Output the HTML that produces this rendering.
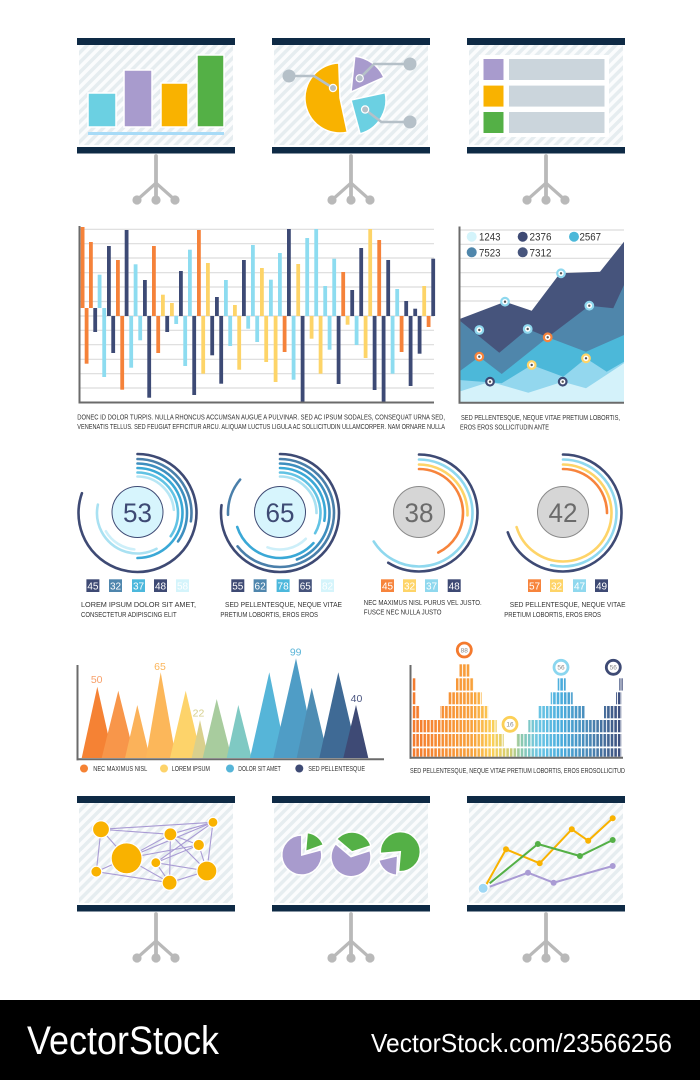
<!DOCTYPE html>
<html><head><meta charset="utf-8"><style>
html,body{margin:0;padding:0;background:#fff;}
svg{display:block;}
text{font-family:"Liberation Sans",sans-serif;}
.a{fill:none;stroke-width:2.6;stroke-linecap:round;}
.cap{font-size:7.6px;fill:#333;}
.sq{font-size:10px;fill:#fff;text-anchor:middle;}
</style></head><body>
<svg width="700" height="1080" viewBox="0 0 700 1080" xmlns="http://www.w3.org/2000/svg">
<defs>
<pattern id="st" width="7" height="7" patternUnits="userSpaceOnUse" patternTransform="rotate(45)">
<rect width="7" height="7" fill="#e6edf0"/><rect width="3.5" height="7" fill="#fbfcfd"/>
</pattern>
<pattern id="vg" x="412.7" y="0" width="3.6" height="20" patternUnits="userSpaceOnUse">
<rect x="2.6" y="0" width="1" height="20" fill="#fff"/>
</pattern>
<linearGradient id="cg" gradientUnits="userSpaceOnUse" x1="412" y1="0" x2="622" y2="0">
<stop offset="0" stop-color="#f47a2e"/>
<stop offset="0.29" stop-color="#f8a23c"/>
<stop offset="0.38" stop-color="#fcd058"/>
<stop offset="0.47" stop-color="#cdcd74"/>
<stop offset="0.52" stop-color="#8dc9ae"/>
<stop offset="0.6" stop-color="#6cc6e4"/>
<stop offset="0.71" stop-color="#4aaddd"/>
<stop offset="0.85" stop-color="#4a86b4"/>
<stop offset="1" stop-color="#3e4b79"/>
</linearGradient>
<g id="board">
<rect x="0" y="0" width="158" height="7" fill="#0e2a45"/>
<rect x="2" y="7" width="154" height="100" fill="url(#st)"/>
<rect x="0" y="109" width="158" height="6.5" fill="#0e2a45"/>
<g stroke="#b9b9b9" fill="none" stroke-linecap="round">
<line x1="79" y1="118" x2="79" y2="162" stroke-width="3.8"/>
<polyline points="60,162 79,145 98,162" stroke-width="3.2"/>
</g>
<g fill="#b9b9b9"><circle cx="60" cy="162" r="4.6"/><circle cx="79" cy="162" r="4.6"/><circle cx="98" cy="162" r="4.6"/></g>
</g>
</defs>
<rect width="700" height="1080" fill="#fff"/>

<!-- boards -->
<use href="#board" x="77" y="38"/>
<use href="#board" x="272" y="38"/>
<use href="#board" x="467" y="38"/>
<use href="#board" x="77" y="796"/>
<use href="#board" x="272" y="796"/>
<use href="#board" x="467" y="796"/>

<!-- board 1 content -->
<g stroke="#fff" stroke-width="1.5">
<rect x="88" y="93" width="28" height="34" fill="#6bd0e2"/>
<rect x="124" y="70" width="28" height="57" fill="#a89bcd"/>
<rect x="161" y="83" width="27" height="44" fill="#f9b200"/>
<rect x="197" y="55" width="27" height="72" fill="#54b046"/>
</g>
<rect x="88" y="132" width="136" height="3" fill="#a8dbf7"/>

<!-- board 2 content -->
<g stroke="#fff" stroke-width="1.5">
<path d="M340,98 L347.3,132.2 A35,35 0 1,1 338.8,63 Z" fill="#f9b200"/>
<path d="M351,92 L354.8,56.2 A36,36 0 0,1 383.9,77.4 Z" fill="#a89bcd"/>
<path d="M351,100 L385.2,92.7 A35,35 0 0,1 360.1,133.8 Z" fill="#6bd0e2"/>
</g>
<g stroke="#b5c0c8" stroke-width="2.6" fill="none">
<polyline points="289,76 314,76 333,88"/>
<polyline points="410,64 374,64 359.7,78.3"/>
<polyline points="410,122 381.4,122 365.1,109.5"/>
</g>
<g fill="#b5c0c8"><circle cx="289" cy="76" r="6.5"/><circle cx="410" cy="64" r="6.5"/><circle cx="410" cy="122" r="6.5"/></g>
<g fill="#b5c0c8" stroke="#fff" stroke-width="1.2"><circle cx="333" cy="88" r="3.6"/><circle cx="359.7" cy="78.3" r="3.6"/><circle cx="365.1" cy="109.5" r="3.6"/></g>

<!-- board 3 content -->
<rect x="479" y="55" width="130" height="82" fill="#fff"/>
<rect x="483.5" y="59" width="20" height="21" fill="#a89bcd"/>
<rect x="483.5" y="85.6" width="20" height="21" fill="#f9b200"/>
<rect x="483.5" y="112" width="20" height="21" fill="#54b046"/>
<rect x="509" y="59" width="95.5" height="21" fill="#cbd5dc"/>
<rect x="509" y="85.6" width="95.5" height="21" fill="#cbd5dc"/>
<rect x="509" y="112" width="95.5" height="21" fill="#cbd5dc"/>

<!-- middle bar chart -->
<g stroke="#dcdcdc" stroke-width="1.2">
<line x1="80" y1="229.3" x2="434" y2="229.3"/><line x1="80" y1="243.7" x2="434" y2="243.7"/>
<line x1="80" y1="258" x2="434" y2="258"/><line x1="80" y1="272.7" x2="434" y2="272.7"/>
<line x1="80" y1="287" x2="434" y2="287"/><line x1="80" y1="301.5" x2="434" y2="301.5"/>
<line x1="80" y1="316" x2="434" y2="316"/><line x1="80" y1="330.3" x2="434" y2="330.3"/>
<line x1="80" y1="344.7" x2="434" y2="344.7"/><line x1="80" y1="359.3" x2="434" y2="359.3"/>
<line x1="80" y1="373.7" x2="434" y2="373.7"/><line x1="80" y1="388" x2="434" y2="388"/>
</g>
<g fill="#f5823a">
<rect x="80.7" y="227" width="3.8" height="81"/><rect x="84.7" y="308" width="3.8" height="55.7"/>
<rect x="89" y="242" width="3.8" height="66"/><rect x="116" y="260" width="3.8" height="56"/>
<rect x="120.3" y="316" width="3.8" height="73.7"/><rect x="152" y="246" width="3.8" height="70"/>
<rect x="156.3" y="316" width="3.8" height="37"/><rect x="197" y="230" width="3.8" height="86"/>
<rect x="282.7" y="316" width="3.8" height="36"/><rect x="341.3" y="272" width="3.8" height="44"/>
<rect x="377.3" y="240" width="3.8" height="76"/><rect x="399.7" y="316" width="3.8" height="36"/>
<rect x="426.7" y="316" width="3.8" height="11"/>
</g>
<g fill="#3d4a75">
<rect x="93.3" y="308" width="3.8" height="24"/><rect x="107" y="246" width="3.8" height="70"/>
<rect x="111.3" y="316" width="3.8" height="37"/><rect x="124.7" y="230" width="3.8" height="86"/>
<rect x="143" y="280" width="3.8" height="36"/><rect x="147.3" y="316" width="3.8" height="81.7"/>
<rect x="165.3" y="316" width="3.8" height="16"/><rect x="179" y="271" width="3.8" height="45"/>
<rect x="192.3" y="316" width="3.8" height="79"/><rect x="210.3" y="316" width="3.8" height="39.3"/>
<rect x="215" y="297" width="3.8" height="19"/><rect x="219.3" y="316" width="3.8" height="67.7"/>
<rect x="242" y="260" width="3.8" height="56"/><rect x="287" y="229" width="3.8" height="87"/>
<rect x="300.7" y="316" width="3.8" height="87"/><rect x="336.7" y="316" width="3.8" height="68"/>
<rect x="350.3" y="290" width="3.8" height="26"/><rect x="359.3" y="248" width="3.8" height="68"/>
<rect x="372.7" y="316" width="3.8" height="74"/><rect x="381.7" y="316" width="3.8" height="86"/>
<rect x="386.3" y="260" width="3.8" height="56"/><rect x="404.3" y="301" width="3.8" height="15"/>
<rect x="408.7" y="316" width="3.8" height="70"/><rect x="413.3" y="308.7" width="3.8" height="7.3"/>
<rect x="417.7" y="316" width="3.8" height="37.7"/><rect x="431.3" y="258.7" width="3.8" height="57.3"/>
</g>
<g fill="#8ddcf0">
<rect x="97.7" y="274.7" width="3.8" height="33.3"/><rect x="102.3" y="308" width="3.8" height="69"/>
<rect x="129.3" y="316" width="3.8" height="51.7"/><rect x="133.7" y="264.3" width="3.8" height="51.7"/>
<rect x="138.3" y="316" width="3.8" height="24.3"/><rect x="174.3" y="316" width="3.8" height="8"/>
<rect x="183.3" y="316" width="3.8" height="50"/><rect x="188" y="249.7" width="3.8" height="66.3"/>
<rect x="224" y="280" width="3.8" height="36"/><rect x="228.3" y="316" width="3.8" height="30"/>
<rect x="246.3" y="316" width="3.8" height="12.7"/><rect x="251" y="245" width="3.8" height="71"/>
<rect x="255.3" y="316" width="3.8" height="26"/><rect x="269" y="279.7" width="3.8" height="36.3"/>
<rect x="278" y="253" width="3.8" height="63"/><rect x="291.7" y="316" width="3.8" height="63.7"/>
<rect x="305.3" y="238" width="3.8" height="78"/><rect x="314.3" y="229" width="3.8" height="87"/>
<rect x="323.3" y="286" width="3.8" height="30"/><rect x="327.7" y="316" width="3.8" height="33.7"/>
<rect x="332.3" y="258.7" width="3.8" height="57.3"/><rect x="354.7" y="316" width="3.8" height="29"/>
<rect x="390.7" y="316" width="3.8" height="57.7"/><rect x="395.3" y="289" width="3.8" height="27"/>
</g>
<g fill="#fdd468">
<rect x="161" y="294.7" width="3.8" height="21.3"/><rect x="170" y="303" width="3.8" height="13"/>
<rect x="201.3" y="316" width="3.8" height="57.7"/><rect x="206" y="263" width="3.8" height="53"/>
<rect x="233" y="305" width="3.8" height="11"/><rect x="237.3" y="316" width="3.8" height="53.7"/>
<rect x="260" y="268" width="3.8" height="48"/><rect x="264.3" y="316" width="3.8" height="46"/>
<rect x="273.7" y="316" width="3.8" height="66"/><rect x="296.3" y="264" width="3.8" height="52"/>
<rect x="309.7" y="316" width="3.8" height="22.7"/><rect x="318.7" y="316" width="3.8" height="57.7"/>
<rect x="345.7" y="316" width="3.8" height="8.7"/><rect x="363.7" y="316" width="3.8" height="42"/>
<rect x="368.3" y="229" width="3.8" height="87"/><rect x="422.3" y="286" width="3.8" height="30"/>
</g>
<g stroke="#6b6b6b" stroke-width="2">
<line x1="79.5" y1="226" x2="79.5" y2="403.5"/><line x1="78.5" y1="402.5" x2="434" y2="402.5"/>
</g>
<text class="cap" x="77.3" y="419.5" textLength="367.7" lengthAdjust="spacingAndGlyphs">DONEC ID DOLOR TURPIS. NULLA RHONCUS ACCUMSAN AUGUE A PULVINAR. SED AC IPSUM SODALES, CONSEQUAT URNA SED,</text>
<text class="cap" x="77.3" y="429" textLength="367.7" lengthAdjust="spacingAndGlyphs">VENENATIS TELLUS. SED FEUGIAT EFFICITUR ARCU. ALIQUAM LUCTUS LIGULA AC SOLLICITUDIN ULLAMCORPER. NAM ORNARE NULLA</text>

<!-- area chart -->
<g stroke="#dcdcdc" stroke-width="1.2">
<line x1="460" y1="230" x2="624" y2="230"/><line x1="460" y1="244.3" x2="624" y2="244.3"/>
<line x1="460" y1="258.3" x2="624" y2="258.3"/><line x1="460" y1="272.7" x2="624" y2="272.7"/>
<line x1="460" y1="286.7" x2="624" y2="286.7"/><line x1="460" y1="301" x2="624" y2="301"/>
</g>
<polygon fill="#46547c" points="459,319.3 505,301.7 531.7,310.7 560,273.3 600,271.7 624,241.7 624,402 459,402"/>
<polygon fill="#4f86ab" points="459,320 499.3,352.7 527.7,329 547.7,337.3 589.3,305.7 613.3,308.3 624,285 624,402 459,402"/>
<polygon fill="#4cb8d9" points="459,371.7 479.3,356.7 501.7,374 547.7,337.3 586,351.7 624,335 624,402 459,402"/>
<polygon fill="#93d7ee" points="459,380 501.7,383.3 531.7,365 563.3,376.7 586,358.3 606.7,371.7 624,361.7 624,402 459,402"/>
<polygon fill="#d4f2fa" points="459,391.7 490,381.7 528.3,392.7 562.7,381.7 586,388.3 624,363.3 624,402 459,402"/>
<g fill="#fff" stroke-width="2.2">
<g stroke="#8fd8ee"><circle cx="479.3" cy="330" r="3.8"/><circle cx="505" cy="301.7" r="3.8"/><circle cx="527.7" cy="329" r="3.8"/><circle cx="561" cy="273.3" r="3.8"/><circle cx="589.3" cy="305.7" r="3.8"/></g>
<g stroke="#f7843c"><circle cx="479.3" cy="356.7" r="3.8"/><circle cx="547.7" cy="337.3" r="3.8"/></g>
<g stroke="#fed468"><circle cx="531.7" cy="365" r="3.8"/><circle cx="586" cy="358.3" r="3.8"/></g>
<g stroke="#3e4a74"><circle cx="490" cy="381.7" r="3.8"/><circle cx="562.7" cy="381.7" r="3.8"/></g>
</g>
<g fill="#555"><circle cx="479.3" cy="330" r="1.2"/><circle cx="505" cy="301.7" r="1.2"/><circle cx="527.7" cy="329" r="1.2"/><circle cx="561" cy="273.3" r="1.2"/><circle cx="589.3" cy="305.7" r="1.2"/><circle cx="479.3" cy="356.7" r="1.2"/><circle cx="547.7" cy="337.3" r="1.2"/><circle cx="531.7" cy="365" r="1.2"/><circle cx="586" cy="358.3" r="1.2"/><circle cx="490" cy="381.7" r="1.2"/><circle cx="562.7" cy="381.7" r="1.2"/></g>
<circle cx="471.7" cy="236.7" r="5" fill="#d4f4fb"/>
<circle cx="522.7" cy="236.7" r="5" fill="#3e4a74"/>
<circle cx="574" cy="236.7" r="5" fill="#4cb8d9"/>
<circle cx="471.7" cy="252.3" r="5" fill="#4f86ab"/>
<circle cx="522.7" cy="252.3" r="5" fill="#46547c"/>
<g font-size="11" fill="#333">
<text x="479" y="240.7" textLength="21.5" lengthAdjust="spacingAndGlyphs">1243</text>
<text x="529.5" y="240.7" textLength="22" lengthAdjust="spacingAndGlyphs">2376</text>
<text x="579.5" y="240.7" textLength="21.5" lengthAdjust="spacingAndGlyphs">2567</text>
<text x="479" y="256.3" textLength="21.5" lengthAdjust="spacingAndGlyphs">7523</text>
<text x="529.5" y="256.3" textLength="22" lengthAdjust="spacingAndGlyphs">7312</text>
</g>
<g stroke="#6b6b6b" stroke-width="2">
<line x1="459.5" y1="226.5" x2="459.5" y2="403.5"/><line x1="458.5" y1="402.7" x2="624" y2="402.7"/>
</g>
<text class="cap" x="461" y="420" textLength="159" lengthAdjust="spacingAndGlyphs">SED PELLENTESQUE, NEQUE VITAE PRETIUM LOBORTIS,</text>
<text class="cap" x="460" y="429.3" textLength="89" lengthAdjust="spacingAndGlyphs">EROS EROS SOLLICITUDIN ANTE</text>

<!-- gauges -->
<!-- gauge 1 -->
<circle class="a" cx="137.5" cy="513" r="59" pathLength="360" stroke-dasharray="290 400" transform="rotate(-90 137.5 513)" stroke="#3e4a74" stroke-width="2.3"/>
<circle class="a" cx="137.5" cy="513" r="54" pathLength="360" stroke-dasharray="99 400" transform="rotate(-90 137.5 513)" stroke="#4a7faa"/>
<circle class="a" cx="137.5" cy="513" r="49.5" pathLength="360" stroke-dasharray="125 400" transform="rotate(-90 137.5 513)" stroke="#3e8fbf"/>
<circle class="a" cx="137.5" cy="513" r="45" pathLength="360" stroke-dasharray="180 400" transform="rotate(-90 137.5 513)" stroke="#3aa8d6"/>
<circle class="a" cx="137.5" cy="513" r="40.5" pathLength="360" stroke-dasharray="125 400" transform="rotate(-90 137.5 513)" stroke="#62c3e4"/>
<circle class="a" cx="137.5" cy="513" r="40.5" pathLength="360" stroke-dasharray="130 400" transform="rotate(62 137.5 513)" stroke="#a9e1f2"/>
<circle class="a" cx="137.5" cy="513" r="36.5" pathLength="360" stroke-dasharray="85 400" transform="rotate(-90 137.5 513)" stroke="#b8e7f5"/>
<circle class="a" cx="137.5" cy="513" r="36.5" pathLength="360" stroke-dasharray="55 400" transform="rotate(95 137.5 513)" stroke="#cdeff9"/>
<circle cx="137.5" cy="512" r="25.5" fill="#d7f5fd" stroke="#3e4a74" stroke-width="1"/>
<text x="137.5" y="522" font-size="27" fill="#3e4a74" text-anchor="middle" textLength="29" lengthAdjust="spacingAndGlyphs">53</text>
<!-- gauge 2 -->
<circle class="a" cx="280" cy="513" r="59" pathLength="360" stroke-dasharray="278 400" transform="rotate(-90 280 513)" stroke="#3e4a74" stroke-width="2.3"/>
<circle class="a" cx="280" cy="513" r="54" pathLength="360" stroke-dasharray="232 400" transform="rotate(-90 280 513)" stroke="#4a7faa"/>
<circle class="a" cx="280" cy="513" r="52" pathLength="360" stroke-dasharray="42 400" transform="rotate(178 280 513)" stroke="#4a7faa"/>
<circle class="a" cx="280" cy="513" r="49.5" pathLength="360" stroke-dasharray="160 400" transform="rotate(-90 280 513)" stroke="#3e8fbf"/>
<circle class="a" cx="280" cy="513" r="45" pathLength="360" stroke-dasharray="100 400" transform="rotate(-90 280 513)" stroke="#3aa8d6"/>
<circle class="a" cx="280" cy="513" r="45" pathLength="360" stroke-dasharray="120 400" transform="rotate(42 280 513)" stroke="#3aa8d6"/>
<circle class="a" cx="280" cy="513" r="40.5" pathLength="360" stroke-dasharray="120 400" transform="rotate(-90 280 513)" stroke="#62c3e4"/>
<circle class="a" cx="280" cy="513" r="36.5" pathLength="360" stroke-dasharray="90 400" transform="rotate(-90 280 513)" stroke="#a9e1f2"/>
<circle class="a" cx="280" cy="513" r="36.5" pathLength="360" stroke-dasharray="65 400" transform="rotate(45 280 513)" stroke="#cdeff9"/>
<circle cx="280" cy="512" r="25.5" fill="#d7f5fd" stroke="#3e4a74" stroke-width="1"/>
<text x="280" y="522" font-size="27" fill="#3e4a74" text-anchor="middle" textLength="29" lengthAdjust="spacingAndGlyphs">65</text>
<!-- gauge 3 -->
<circle class="a" cx="419" cy="513" r="58.5" pathLength="360" stroke-dasharray="212 400" transform="rotate(-90 419 513)" stroke="#3e4a74" stroke-width="2.8"/>
<circle class="a" cx="419" cy="513" r="53.5" pathLength="360" stroke-dasharray="238 400" transform="rotate(-90 419 513)" stroke="#8fd8ee" stroke-width="2.8"/>
<circle class="a" cx="419" cy="513" r="48.5" pathLength="360" stroke-dasharray="93 400" transform="rotate(-90 419 513)" stroke="#fed468" stroke-width="2.8"/>
<circle class="a" cx="419" cy="513" r="44" pathLength="360" stroke-dasharray="154 400" transform="rotate(-90 419 513)" stroke="#f7843c" stroke-width="2.8"/>
<circle cx="419" cy="512" r="25.5" fill="#d6d6d6" stroke="#8a8a8a" stroke-width="1"/>
<text x="419" y="522" font-size="27" fill="#6b6b6b" text-anchor="middle" textLength="29" lengthAdjust="spacingAndGlyphs">38</text>
<!-- gauge 4 -->
<circle class="a" cx="563" cy="513" r="58.5" pathLength="360" stroke-dasharray="251 400" transform="rotate(-90 563 513)" stroke="#3e4a74" stroke-width="2.8"/>
<circle class="a" cx="563" cy="513" r="53.5" pathLength="360" stroke-dasharray="193 400" transform="rotate(-90 563 513)" stroke="#8fd8ee" stroke-width="2.8"/>
<circle class="a" cx="563" cy="513" r="48.5" pathLength="360" stroke-dasharray="253 400" transform="rotate(-90 563 513)" stroke="#fed468" stroke-width="2.8"/>
<circle class="a" cx="563" cy="513" r="44" pathLength="360" stroke-dasharray="90 400" transform="rotate(-90 563 513)" stroke="#f7843c" stroke-width="2.8"/>
<circle cx="563" cy="512" r="25.5" fill="#d6d6d6" stroke="#8a8a8a" stroke-width="1"/>
<text x="563" y="522" font-size="27" fill="#6b6b6b" text-anchor="middle" textLength="29" lengthAdjust="spacingAndGlyphs">42</text>

<!-- gauge squares -->
<rect x="86.4" y="579.3" width="13" height="12.7" fill="#3e4a74"/><rect x="109" y="579.3" width="13" height="12.7" fill="#4f86ad"/>
<rect x="132" y="579.3" width="13" height="12.7" fill="#4cb8dc"/><rect x="154" y="579.3" width="13" height="12.7" fill="#3e4a74"/>
<rect x="176" y="579.3" width="13" height="12.7" fill="#d4f4fb"/>
<rect x="231.3" y="579.3" width="13" height="12.7" fill="#3e4a74"/><rect x="253.6" y="579.3" width="13" height="12.7" fill="#4f86ad"/>
<rect x="276.6" y="579.3" width="13" height="12.7" fill="#4cb8dc"/><rect x="298.8" y="579.3" width="13" height="12.7" fill="#46547c"/>
<rect x="321" y="579.3" width="13" height="12.7" fill="#d4f4fb"/>
<rect x="381" y="579.3" width="13" height="12.7" fill="#f7843c"/><rect x="403" y="579.3" width="13" height="12.7" fill="#fed468"/>
<rect x="425" y="579.3" width="13" height="12.7" fill="#8fd8ee"/><rect x="447.7" y="579.3" width="13" height="12.7" fill="#3e4a74"/>
<rect x="528" y="579.3" width="13" height="12.7" fill="#f7843c"/><rect x="550" y="579.3" width="13" height="12.7" fill="#fed468"/>
<rect x="573" y="579.3" width="13" height="12.7" fill="#8fd8ee"/><rect x="595" y="579.3" width="13" height="12.7" fill="#3e4a74"/>
<g class="sq">
<text x="92.9" y="589.5">45</text><text x="115.5" y="589.5">32</text><text x="138.5" y="589.5">37</text><text x="160.5" y="589.5">48</text><text x="182.5" y="589.5">58</text>
<text x="237.8" y="589.5">55</text><text x="260.1" y="589.5">62</text><text x="283.1" y="589.5">78</text><text x="305.3" y="589.5">65</text><text x="327.5" y="589.5">82</text>
<text x="387.5" y="589.5">45</text><text x="409.5" y="589.5">32</text><text x="431.5" y="589.5">37</text><text x="454.2" y="589.5">48</text>
<text x="534.5" y="589.5">57</text><text x="556.5" y="589.5">32</text><text x="579.5" y="589.5">47</text><text x="601.5" y="589.5">49</text>
</g>
<text class="cap" x="81" y="607" textLength="115" lengthAdjust="spacingAndGlyphs">LOREM IPSUM DOLOR SIT AMET,</text>
<text class="cap" x="81" y="617" textLength="95.6" lengthAdjust="spacingAndGlyphs">CONSECTETUR ADIPISCING ELIT</text>
<text class="cap" x="225" y="607" textLength="117" lengthAdjust="spacingAndGlyphs">SED PELLENTESQUE, NEQUE VITAE</text>
<text class="cap" x="220.4" y="617" textLength="97.6" lengthAdjust="spacingAndGlyphs">PRETIUM LOBORTIS, EROS EROS</text>
<text class="cap" x="363.8" y="605" textLength="117.9" lengthAdjust="spacingAndGlyphs">NEC MAXIMUS NISL PURUS VEL JUSTO.</text>
<text class="cap" x="363.8" y="614.5" textLength="77.7" lengthAdjust="spacingAndGlyphs">FUSCE NEC NULLA JUSTO</text>
<text class="cap" x="509.8" y="607" textLength="115.7" lengthAdjust="spacingAndGlyphs">SED PELLENTESQUE, NEQUE VITAE</text>
<text class="cap" x="504.3" y="617" textLength="96.7" lengthAdjust="spacingAndGlyphs">PRETIUM LOBORTIS, EROS EROS</text>

<!-- triangle chart -->
<polygon fill="#f58234" points="81.7,758 97.3,686.7 113.3,758"/>
<polygon fill="#f8964a" points="101.7,758 118.3,690.7 135,758"/>
<polygon fill="#fbb25a" points="125,758 137.3,705 150,758"/>
<polygon fill="#fcb75a" points="146,758 160.7,672.3 176,758"/>
<polygon fill="#fdd36a" points="170,758 185.7,690.7 201.7,758"/>
<polygon fill="#d9d08d" points="191.7,758 200,720 208.3,758"/>
<polygon fill="#a8cc9e" points="202.7,758 216.7,699 231.7,758"/>
<polygon fill="#7fc9c3" points="226.7,758 238.3,705 251.7,758"/>
<polygon fill="#56b5d8" points="250,758 269.3,672.3 286.7,758"/>
<polygon fill="#4f9dc6" points="273.3,758 296,658.3 316.7,758"/>
<polygon fill="#4e8db3" points="296.7,758 311.7,687.7 328.3,758"/>
<polygon fill="#3f6a95" points="319.3,758 338.3,672.3 358.3,758"/>
<polygon fill="#3e4a75" points="343.3,758 356,705 368.3,758"/>
<g font-size="10.5" text-anchor="middle">
<text x="96.7" y="683" fill="#f7a06a">50</text>
<text x="160" y="670" fill="#fbb55a">65</text>
<text x="198.5" y="716.5" fill="#d6cf8c">22</text>
<text x="295.7" y="655.5" fill="#5bb5d8">99</text>
<text x="356.5" y="702" fill="#4a5580">40</text>
</g>
<g stroke="#6b6b6b" stroke-width="2">
<line x1="77.5" y1="665" x2="77.5" y2="760.3"/><line x1="76.5" y1="759.3" x2="384" y2="759.3"/>
</g>
<circle cx="84" cy="768.5" r="4" fill="#f58234"/>
<circle cx="164" cy="768.5" r="4" fill="#fdd36a"/>
<circle cx="230" cy="768.5" r="4" fill="#56b5d8"/>
<circle cx="299.3" cy="768.5" r="4" fill="#3e4a74"/>
<g font-size="7" fill="#333">
<text x="93.3" y="771" textLength="54" lengthAdjust="spacingAndGlyphs">NEC MAXIMUS NISL</text>
<text x="171.7" y="771" textLength="38.3" lengthAdjust="spacingAndGlyphs">LOREM IPSUM</text>
<text x="238.3" y="771" textLength="42.4" lengthAdjust="spacingAndGlyphs">DOLOR SIT AMET</text>
<text x="308.3" y="771" textLength="56.7" lengthAdjust="spacingAndGlyphs">SED PELLENTESQUE</text>
</g>

<!-- stacked column chart -->
<g fill="url(#cg)">
<rect x="412.7" y="748.3" width="209" height="8.4"/>
<rect x="412.7" y="734" width="91" height="12.5"/><rect x="516" y="734" width="105.7" height="12.5"/>
<rect x="412.7" y="720" width="84" height="12.3"/><rect x="528.3" y="720" width="93.4" height="12.3"/>
<rect x="412.7" y="706" width="7.3" height="12.3"/><rect x="440" y="706" width="48.3" height="12.3"/><rect x="538.3" y="706" width="46.7" height="12.3"/><rect x="604" y="706" width="17.7" height="12.3"/>
<rect x="412.7" y="692.3" width="3.3" height="12"/><rect x="448.3" y="692.3" width="33.4" height="12"/><rect x="550.7" y="692.3" width="22" height="12"/><rect x="616" y="692.3" width="5.7" height="12"/>
<rect x="412.7" y="678.3" width="3.3" height="12.3"/><rect x="456" y="678.3" width="18" height="12.3"/><rect x="557.7" y="678.3" width="8" height="12.3"/><rect x="619.3" y="678.3" width="3.4" height="12.3"/>
<rect x="459.3" y="664.3" width="10.7" height="12.3"/>
</g>
<rect x="411.5" y="660" width="213" height="97" fill="url(#vg)"/>
<g stroke="#6b6b6b" stroke-width="2">
<line x1="410.5" y1="665" x2="410.5" y2="758.7"/><line x1="409.5" y1="757.7" x2="623" y2="757.7"/>
</g>
<g fill="#fff" stroke-width="2.8">
<circle cx="464.3" cy="650" r="7" stroke="#f47a2e"/>
<circle cx="561" cy="667.3" r="7" stroke="#8ad6ef"/>
<circle cx="613.3" cy="667.3" r="7" stroke="#3e4a74"/>
<circle cx="510" cy="724.3" r="7" stroke="#fcd058"/>
</g>
<g font-size="6.5" fill="#888" text-anchor="middle">
<text x="464.3" y="652.3">88</text><text x="561" y="669.6">56</text><text x="613.3" y="669.6">56</text><text x="510" y="726.6">16</text>
</g>
<text class="cap" x="410" y="772.8" textLength="215" lengthAdjust="spacingAndGlyphs">SED PELLENTESQUE, NEQUE VITAE PRETIUM LOBORTIS, EROS EROSOLLICITUD</text>

<!-- board 4 network -->
<g stroke="#a99bd4" stroke-width="1.1">
<line x1="101" y1="829.3" x2="170.4" y2="834.3"/>
<line x1="101" y1="829.3" x2="213" y2="822.3"/>
<line x1="101" y1="829.3" x2="126.6" y2="858.3"/>
<line x1="101" y1="829.3" x2="96.3" y2="871.7"/>
<line x1="170.4" y1="834.3" x2="213" y2="822.3"/>
<line x1="170.4" y1="834.3" x2="169.6" y2="882.7"/>
<line x1="170.4" y1="834.3" x2="198.8" y2="845"/>
<line x1="170.4" y1="834.3" x2="206.9" y2="871"/>
<line x1="126.6" y1="858.3" x2="170.4" y2="834.3"/>
<line x1="126.6" y1="858.3" x2="198.8" y2="845"/>
<line x1="126.6" y1="858.3" x2="213" y2="822.3"/>
<line x1="126.6" y1="858.3" x2="169.6" y2="882.7"/>
<line x1="126.6" y1="858.3" x2="96.3" y2="871.7"/>
<line x1="96.3" y1="871.7" x2="169.6" y2="882.7"/>
<line x1="213" y1="822.3" x2="206.9" y2="871"/>
<line x1="213" y1="822.3" x2="155.8" y2="862.7"/>
<line x1="155.8" y1="862.7" x2="206.9" y2="871"/>
<line x1="155.8" y1="862.7" x2="169.6" y2="882.7"/>
<line x1="169.6" y1="882.7" x2="206.9" y2="871"/>
<line x1="198.8" y1="845" x2="155.8" y2="862.7"/>
<line x1="198.8" y1="845" x2="206.9" y2="871"/>
</g>
<g fill="#f9b200" stroke="#fff" stroke-width="1.2">
<circle cx="101" cy="829.3" r="8.5"/><circle cx="126.6" cy="858.3" r="15.5"/><circle cx="96.3" cy="871.7" r="5.5"/>
<circle cx="170.4" cy="834.3" r="6.5"/><circle cx="213" cy="822.3" r="5"/><circle cx="198.8" cy="845" r="5.7"/>
<circle cx="155.8" cy="862.7" r="5"/><circle cx="206.9" cy="871" r="10"/><circle cx="169.6" cy="882.7" r="7.5"/>
</g>

<!-- board 5 pies -->
<g stroke="#fff" stroke-width="1.5">
<path d="M301.8,855 L321.1,849.8 A20,20 0 1,1 301.8,835 Z" fill="#a89bcd"/>
<path d="M305.5,851.5 L307.2,832.6 A19,19 0 0,1 323.4,845 Z" fill="#54b046"/>
<path d="M351,856.7 L370,850.5 A20,20 0 1,1 335.7,843.8 Z" fill="#a89bcd"/>
<path d="M352,852 L336.7,839.1 A20,20 0 0,1 371,845.8 Z" fill="#54b046"/>
<path d="M400.3,851.7 L380.4,853.4 A20,20 0 1,1 398.6,871.6 Z" fill="#54b046"/>
<path d="M397.7,855.7 L396.7,875.2 A19.5,19.5 0 0,1 378.7,860.1 Z" fill="#a89bcd"/>
</g>

<!-- board 6 lines -->
<g fill="none" stroke-width="2">
<polyline stroke="#f9b200" points="486,885 506,849.3 539.7,863.3 571.8,829.3 588.2,840.7 612.7,818.3"/>
<polyline stroke="#54b046" points="489.7,883.3 537.9,844 579.9,856 612.7,840"/>
<polyline stroke="#a99bd4" points="489.7,886.7 528,872.7 553.6,882.7 612.7,866"/>
</g>
<g fill="#f9b200"><circle cx="506" cy="849.3" r="3"/><circle cx="539.7" cy="863.3" r="3"/><circle cx="571.8" cy="829.3" r="3"/><circle cx="588.2" cy="840.7" r="3"/><circle cx="612.7" cy="818.3" r="3"/></g>
<g fill="#54b046"><circle cx="537.9" cy="844" r="3"/><circle cx="579.9" cy="856" r="3"/><circle cx="612.7" cy="840" r="3"/></g>
<g fill="#a99bd4"><circle cx="528" cy="872.7" r="3"/><circle cx="553.6" cy="882.7" r="3"/><circle cx="612.7" cy="866" r="3"/></g>
<circle cx="483.1" cy="888.3" r="5" fill="#9fd8f5" stroke="#fff" stroke-width="1"/>

<!-- footer -->
<rect x="0" y="1000" width="700" height="80" fill="#000"/>
<text x="27" y="1054" font-size="40" fill="#fff" textLength="192" lengthAdjust="spacingAndGlyphs">VectorStock</text>
<text x="371" y="1052" font-size="26" fill="#fff" textLength="301" lengthAdjust="spacingAndGlyphs">VectorStock.com/23566256</text>
</svg>
</body></html>
